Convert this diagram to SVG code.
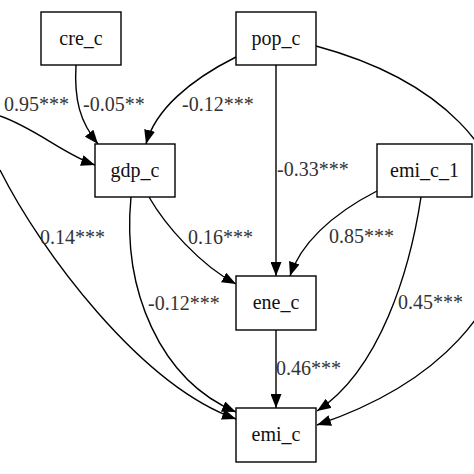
<svg xmlns="http://www.w3.org/2000/svg" width="474" height="474" viewBox="0 0 474 474" font-family="Liberation Serif, serif">
<defs>
<marker id="arr" markerUnits="userSpaceOnUse" markerWidth="15" markerHeight="11" viewBox="0 0 15 11" refX="14" refY="5.5" orient="auto">
<path d="M0,0 L14,5.5 L0,11 z" fill="#000"/>
</marker>
<style>
.node rect{fill:#fff;stroke:#000;stroke-width:1.4}
.node text{font-family:'Liberation Serif',serif;font-size:20px;fill:#111;text-anchor:middle}
.edges path{fill:none;stroke:#000;stroke-width:1.4;marker-end:url(#arr)}
.lbl{font-family:'Liberation Serif',serif;font-size:20px;fill:#333}
</style>
</defs>
<rect width="474" height="474" fill="#fff"/>
<g id="connectors" class="edges">
<path d="M76,65 C74,100 80,122 98,144"/>
<path d="M236,57 C190,80 155,110 146,144"/>
<path d="M0,116 C35,128 65,155 95,165"/>
<path d="M0,170 C40,250 140,385 236,419"/>
<path d="M131,197 C122,290 160,380 236,412"/>
<path d="M149,197 C165,225 200,265 236,284"/>
<path d="M276,65 L276,276"/>
<path d="M377,191 C330,215 300,245 290,276"/>
<path d="M421,197 C410,270 380,370 317,411"/>
<path d="M316,46 C572,115 568,340 317,425"/>
<path d="M276,330 L276,408"/>
</g>
<g id="labels">
<text class="lbl" x="4" y="111">0.95***</text>
<text class="lbl" x="83" y="111">-0.05**</text>
<text class="lbl" x="182" y="111">-0.12***</text>
<text class="lbl" x="277" y="176">-0.33***</text>
<text class="lbl" x="40" y="244">0.14***</text>
<text class="lbl" x="188" y="244">0.16***</text>
<text class="lbl" x="329" y="243">0.85***</text>
<text class="lbl" x="148" y="310">-0.12***</text>
<text class="lbl" x="398" y="309">0.45***</text>
<text class="lbl" x="276" y="375">0.46***</text>
</g>
<g id="cre_c" class="node"><rect x="41" y="12" width="80" height="53"/><text x="81" y="45">cre_c</text></g>
<g id="pop_c" class="node"><rect x="236" y="12" width="80" height="53"/><text x="276" y="45">pop_c</text></g>
<g id="gdp_c" class="node"><rect x="95" y="144" width="80" height="53"/><text x="135" y="177">gdp_c</text></g>
<g id="emi_c_1" class="node"><rect x="377" y="144" width="95" height="53"/><text x="424.5" y="177">emi_c_1</text></g>
<g id="ene_c" class="node"><rect x="236" y="276" width="80" height="54"/><text x="276" y="309">ene_c</text></g>
<g id="emi_c" class="node"><rect x="236" y="408" width="80" height="54"/><text x="276" y="441">emi_c</text></g>
</svg>
